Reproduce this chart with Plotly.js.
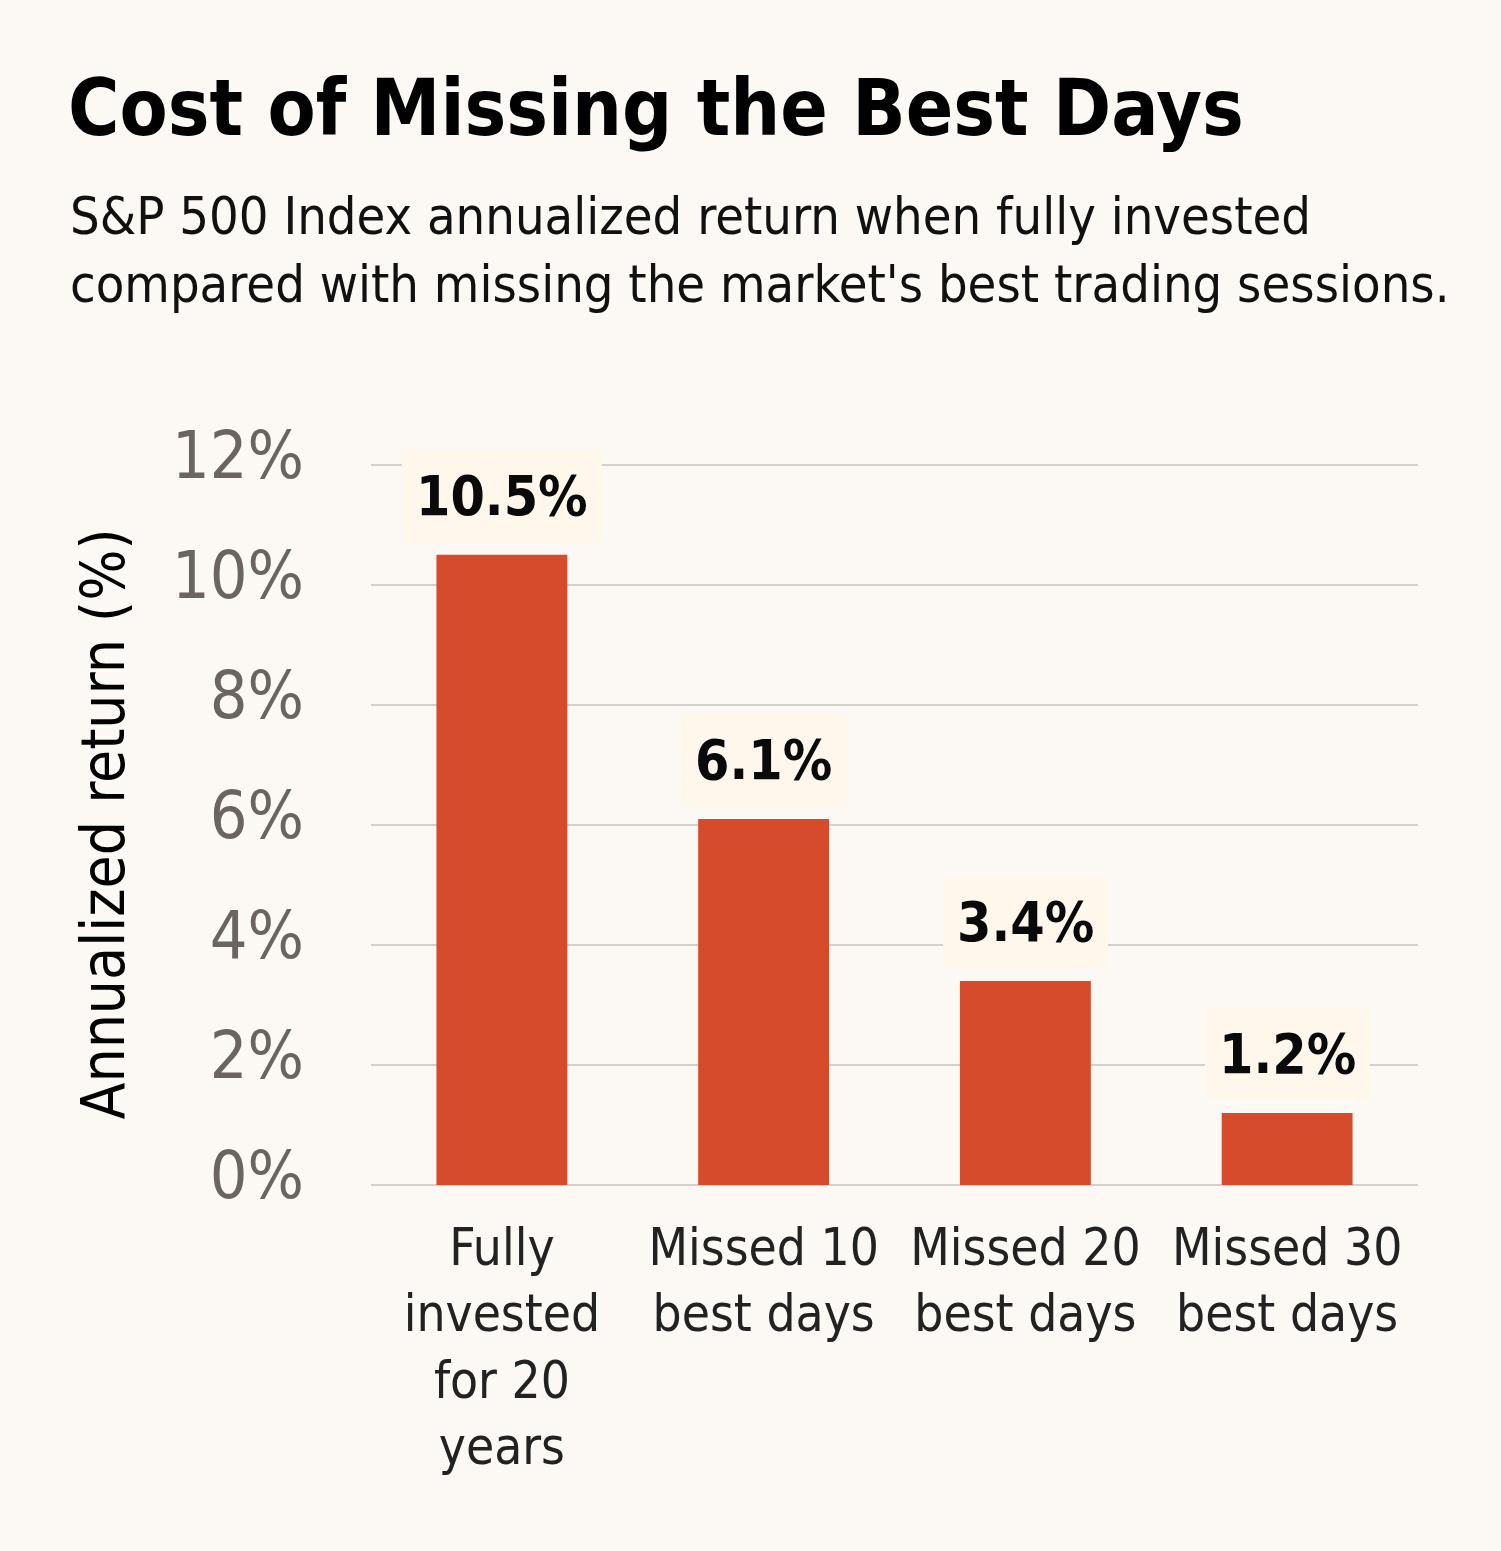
<!DOCTYPE html>
<html>
<head>
<meta charset="utf-8">
<script src="https://cdn.plot.ly/plotly-3.0.1.min.js"></script>
<style>
html,body{margin:0;padding:0;background:#FCF9F4;}
#chart{width:1501px;height:1551px;}
</style>
</head>
<body>
<div id="chart"></div>
<script>
const categories = ["Fully<br>invested<br>for 20<br>years", "Missed 10<br>best days", "Missed 20<br>best days", "Missed 30<br>best days"];
const returns = [10.5, 6.1, 3.4, 1.2];
const valueLabels = ["10.5%", "6.1%", "3.4%", "1.2%"];
const tickValues = [0, 2, 4, 6, 8, 10, 12];
const tickLabels = ["0%", "2%", "4%", "6%", "8%", "10%", "12%"];

const FONT = '"DejaVu Sans Condensed", "DejaVu Sans", Roboto, sans-serif';
const BG = '#FCF9F4';
const GRID = '#D4D1CD';

const trace = {
  type: 'bar',
  x: categories,
  y: returns,
  marker: {color: '#D64B2B'},
  hoverinfo: 'skip'
};

const annotations = categories.map((c, i) => ({
  x: c, y: returns[i], xref: 'x', yref: 'y',
  text: '<b>' + valueLabels[i] + '</b>',
  showarrow: false,
  yanchor: 'bottom', yshift: 13,
  font: {family: FONT, size: 55, color: '#0A0A0A'},
  bgcolor: '#FFF7EC',
  borderpad: 14,
  borderwidth: 0
}));

annotations.push({
  xref: 'paper', yref: 'paper',
  x: -0.2894, y: 1.386, xanchor: 'left', yanchor: 'top', align: 'left',
  text: "S&P 500 Index annualized return when fully invested<br>compared with missing the market's best trading sessions.",
  showarrow: false,
  font: {family: FONT, size: 52, color: '#111111'}
});

const layout = {
  width: 1501, height: 1551,
  paper_bgcolor: BG, plot_bgcolor: BG,
  margin: {l: 371, r: 83, t: 463, b: 366},
  showlegend: false,
  bargap: 0.5,
  font: {family: FONT},
  title: {
    text: '<b>Cost of Missing the Best Days</b>',
    xref: 'container', yref: 'container',
    x: 68/1501, xanchor: 'left',
    y: 1 - 80/1551, yanchor: 'top',
    font: {family: FONT, size: 78, color: '#000000'}
  },
  xaxis: {
    tickfont: {family: FONT, size: 51, color: '#222222'},
    showgrid: false, zeroline: false, showline: false,
    ticks: '', ticklabelstandoff: 28, fixedrange: true
  },
  yaxis: {
    range: [0, 12.03],
    tickvals: tickValues, ticktext: tickLabels,
    tickfont: {family: FONT, size: 66, color: '#6B6461'},
    showgrid: true, gridcolor: GRID, gridwidth: 2,
    zeroline: true, zerolinecolor: GRID, zerolinewidth: 2,
    showline: false, ticks: '',
    ticklabelstandoff: 66, ticklabelshift: -10,
    title: {text: 'Annualized return (%)', standoff: 28, font: {family: FONT, size: 60, color: '#000000'}},
    fixedrange: true
  },
  annotations: annotations
};

Plotly.newPlot('chart', [trace], layout, {displayModeBar: false, staticPlot: true});
</script>
</body>
</html>
